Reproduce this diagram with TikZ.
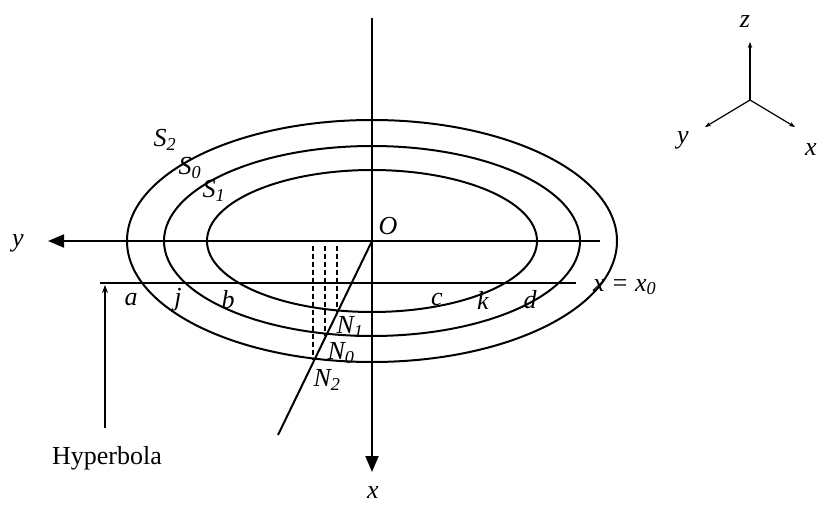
\documentclass[tikz,border=0pt]{standalone}
\usepackage{fontspec}
\setmainfont{Liberation Serif}
\usetikzlibrary{arrows.meta}
\begin{document}
\begin{tikzpicture}[x=1pt,y=-1pt,line width=2pt,
 lbl/.style={font=\itshape\fontsize{26}{26}\selectfont,inner sep=0pt},
 dsh/.style={dashed,line width=1.2pt,dash pattern=on 5pt off 3pt}]
\useasboundingbox (0,0) rectangle (836,524);
\coordinate (O) at (372,241);
\draw (O) ellipse [x radius=245,y radius=121];
\draw (O) ellipse [x radius=208,y radius=95];
\draw (O) ellipse [x radius=165,y radius=71];
\coordinate (ytop) at (372,18);
\coordinate (xend) at (372,472);
\draw[-{Triangle[length=16pt,width=13pt]}] (ytop) -- (xend);
\coordinate (hr) at (600,241);
\coordinate (hl) at (48,241);
\draw[-{Triangle[length=16pt,width=13pt]}] (hr) -- (hl);
\coordinate (l1) at (100,283);
\coordinate (l2) at (576,283);
\draw (l1) -- (l2);
\coordinate (s1) at (278,435);
\draw (O) -- (s1);
\foreach \xx/\yy in {313/360,325/336,337/312}{\draw[dsh] (\xx,246) -- (\xx,\yy);}
\coordinate (h1) at (105,428);
\coordinate (h2) at (105,285);
\draw[line width=1.2pt,-{Stealth[length=8pt]}] (h1) -- (h2);
\node[font=\fontsize{26}{26}\selectfont] (hyp) at (107,458) {Hyperbola};
\node[lbl] (ly) at (18,243) {y};
\node[lbl] (lx) at (373,493) {x};
\node[lbl] (lO) at (388,226) {O};
\node[lbl,anchor=west] (x0) at (592,287) {x = x\textsubscript{0}};
\node[lbl] (a) at (131,300) {a};
\node[lbl] (j) at (178,300) {j};
\node[lbl] (b) at (228,300) {b};
\node[lbl] (c) at (437,300) {c};
\node[lbl] (k) at (483,300) {k};
\node[lbl] (d) at (530,300) {d};
\node[lbl] (S2) at (165,140) {S\textsubscript{2}};
\node[lbl] (S0) at (190,168) {S\textsubscript{0}};
\node[lbl] (S1) at (214,191) {S\textsubscript{1}};
\node[lbl] (N1) at (350,327) {N\textsubscript{1}};
\node[lbl] (N0) at (341,353) {N\textsubscript{0}};
\node[lbl] (N2) at (327,380) {N\textsubscript{2}};
\coordinate (c0) at (750,100);
\coordinate (cz) at (750,42);
\coordinate (cy) at (705,127);
\coordinate (cx) at (795,127);
\foreach \t in {cz,cy,cx}{\draw[line width=1.2pt,-{Stealth[length=6pt]}] (c0) -- (\t);}
\node[lbl] (az) at (745,22) {z};
\node[lbl] (ay) at (683,140) {y};
\node[lbl] (ax) at (811,150) {x};
\end{tikzpicture}
\end{document}
